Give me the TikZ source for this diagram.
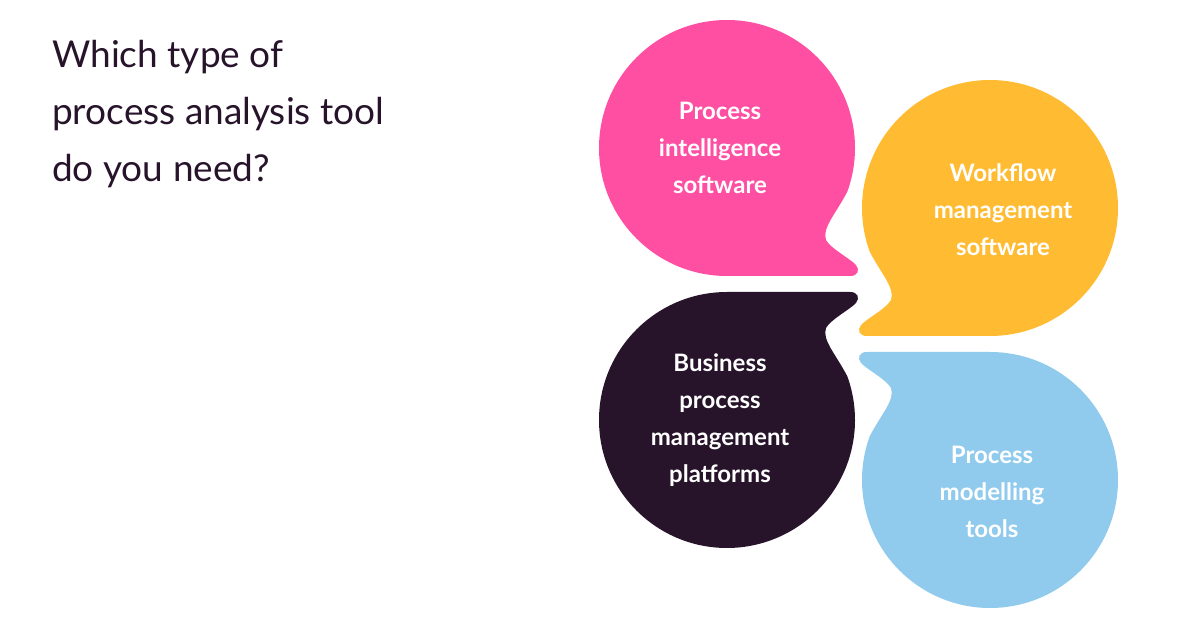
\documentclass[tikz,border=0pt]{standalone}
\usepackage{fontspec}
\setmainfont{Lato}
\definecolor{cpink}{HTML}{FF4FA3}
\definecolor{cyel}{HTML}{FFBC33}
\definecolor{cdark}{HTML}{27142B}
\definecolor{cblue}{HTML}{90CBEE}
\begin{document}
\begin{tikzpicture}[x=1pt,y=-1pt,
  lbl/.style={text=white,font=\fontsize{24}{37}\selectfont\bfseries,align=center},
  ttl/.style={text=cdark,font=\fontsize{37}{57}\selectfont,align=left,anchor=north west,inner sep=0pt}]
\def\bubble{(0,128) arc[start angle=90,end angle=380,radius=128]
 .. controls (108,67) and (95,80) .. (99,92)
 .. controls (103,100) and (125,112) .. (129,117)
 .. controls (133,122) and (131,128) .. (123,128) -- cycle}
\fill[white] (0,0) rectangle (1200,628);
\useasboundingbox (0,0) rectangle (1200,628);
\begin{scope}[shift={(727,148)}] \fill[cpink] \bubble; \end{scope}
\begin{scope}[shift={(990,208)},xscale=-1] \fill[cyel] \bubble; \end{scope}
\begin{scope}[shift={(727,420)},yscale=-1] \fill[cdark] \bubble; \end{scope}
\begin{scope}[shift={(990,480)},xscale=-1,yscale=-1] \fill[cblue] \bubble; \end{scope}
\node[ttl] (t) at (52,40) {Which type of\\process analysis tool\\do you need?};
\node[lbl] (a) at (720,148) {Process\\intelligence\\software};
\node[lbl] (b) at (1003,210) {Workflow\\management\\software};
\node[lbl] (c) at (720,420) {Business\\process\\management\\platforms};
\node[lbl] (d) at (992,492) {Process\\modelling\\tools};
\end{tikzpicture}
\end{document}
